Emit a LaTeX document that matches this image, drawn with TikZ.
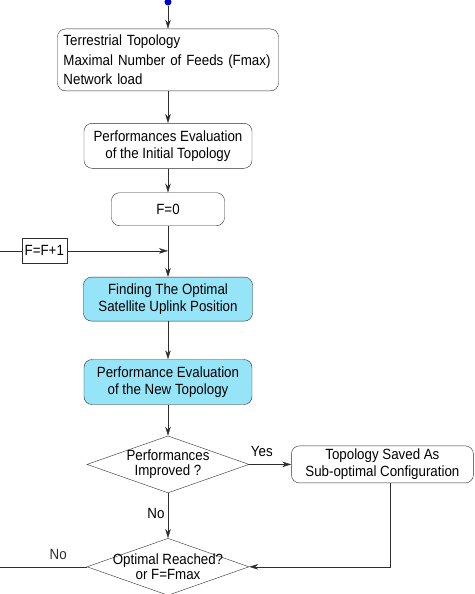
\documentclass[tikz,border=0pt]{standalone}
\usepackage{fontspec}
\setmainfont{Liberation Sans}[FakeStretch=0.9]
\usepackage{tikz}
\usetikzlibrary{calc,positioning,arrows.meta,shapes.geometric}
\definecolor{hotcyan}{RGB}{150,228,248}
\definecolor{linegray}{RGB}{45,45,45}
\tikzstyle{stepbox} = [draw=linegray,rounded corners=8pt,align=center,inner sep=0,font=\fontsize{14.8}{17}\selectfont]
\tikzstyle{hotbox} = [stepbox,fill=hotcyan]
\tikzstyle{decision} = [draw=linegray,diamond,aspect=2.8,inner sep=-8pt,align=center,minimum width=162pt,minimum height=57pt]
\tikzstyle{flow} = [draw=linegray,-{Stealth[length=9pt,width=5.5pt]}]
\tikzset{line width=0.8pt, node distance=30pt, every node/.style={font=\fontsize{14.8}{17}\selectfont}}

\begin{document}
\begin{tikzpicture}
\useasboundingbox (-168pt,0pt) rectangle (306pt,-594pt);
\node[circle,fill=blue!80!black,inner sep=0,minimum size=7pt] (start) at (0pt,-2pt) {};

\node[stepbox, below=23pt of start, minimum width=221pt, minimum height=62pt, text width=209pt, inner xsep=6pt, align=left,
  font=\fontsize{14.8}{19.5}\selectfont] (input) {Terrestrial Topology\\Maximal Number of Feeds (Fmax)\\Network load};
\node[stepbox, below=32pt of input, minimum width=168pt, minimum height=45pt] (initeval) {Performances Evaluation\\of the Initial Topology};
\node[stepbox, below=24pt of initeval, minimum width=113pt, minimum height=33pt] (finit) {F=0};
\coordinate[below=25pt of finit] (join);
\node[hotbox, below=51pt of finit, minimum width=169pt, minimum height=44pt] (uplink) {Finding The Optimal\\Satellite Uplink Position};
\node[hotbox, below=38pt of uplink, minimum width=168pt, minimum height=45pt] (neweval) {Performance Evaluation\\of the New Topology};

\node[decision, below=31pt of neweval, font=\fontsize{14.8}{15}\selectfont] (improved) {Performances\\Improved ?};
\node[stepbox, right=42pt of improved, minimum width=182pt, minimum height=37pt] (saved) {Topology Saved As\\Sub-optimal Configuration};
\node[decision, below=45pt of improved, font=\fontsize{14.8}{13}\selectfont] (reached) {Optimal Reached?\\or F=Fmax};

\node[draw=linegray, inner sep=0, minimum width=45pt, minimum height=25pt, left=101pt of join] (incr) {F=F+1};
\coordinate (loopin) at (-168pt,0 |- join);
\coordinate (loopout) at (-168pt,0 |- reached);

% main chain
\draw[flow] (start) -- (input);
\draw[flow] (input) -- (initeval);
\draw[flow] (initeval) -- (finit);
\draw[linegray] (finit) -- (join);
\draw[flow] (join) -- (uplink);
\draw[flow] (uplink) -- (neweval);
\draw[flow] (neweval) -- (improved);

% decisions
\draw[flow] (improved) -- node[above, pos=0.3, yshift=4pt] {Yes} (saved);
\draw[flow] (improved) -- node[left, pos=0.45] {No} (reached);
\draw[flow] ([xshift=8pt]saved.south) |- (reached.east);
\draw[linegray] (reached.west) -- node[above, pos=0.33, yshift=4pt] {No} (loopout);

% loop back
\draw[linegray] (loopin) -- (incr);
\draw[flow] (incr) -- (join);
\end{tikzpicture}
\end{document}
